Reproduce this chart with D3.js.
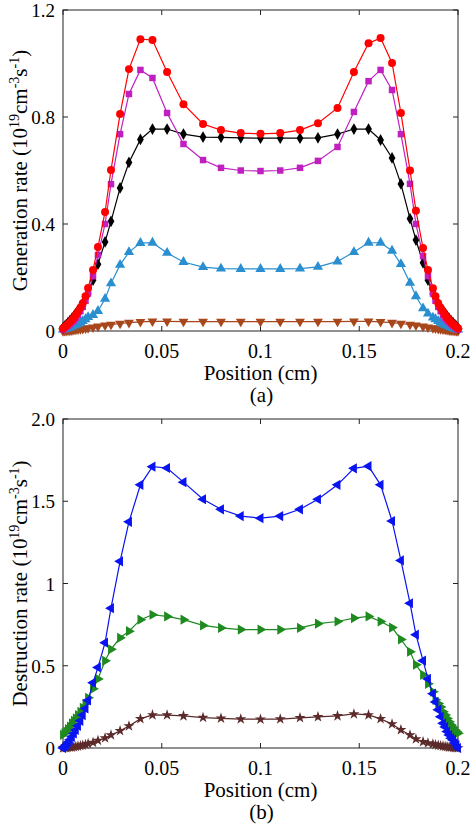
<!DOCTYPE html>
<html>
<head>
<meta charset="utf-8">
<script src="https://cdn.jsdelivr.net/npm/d3@7"></script>
<style>
  body { margin: 0; background: #fff; }
</style>
</head>
<body>
<svg id="fig" width="474" height="829" font-family="'Liberation Serif', 'Times New Roman', Times, 'DejaVu Serif', serif"></svg>
<script>
// shared position grid (cm), same for both panels
var positions = [0, 0.0008, 0.0016, 0.0025, 0.0035, 0.0045, 0.0055, 0.0065, 0.0076, 0.0088, 0.0100,
  0.0114, 0.0127, 0.0152, 0.0177, 0.0213, 0.0243, 0.0289, 0.0334, 0.0392, 0.0453, 0.0527, 0.0610,
  0.0709, 0.0800, 0.0900, 0.1000, 0.1100, 0.1200, 0.1291, 0.1390, 0.1473, 0.1547, 0.1608, 0.1666,
  0.1711, 0.1757, 0.1787, 0.1823, 0.1848, 0.1873, 0.1886, 0.1900, 0.1912, 0.1924, 0.1935, 0.1945,
  0.1955, 0.1965, 0.1975, 0.1984, 0.1992, 0.2000];

// (a) generation rate, 1e19 cm^-3 s^-1
var genRed = [0.010, 0.015, 0.020, 0.026, 0.033, 0.041, 0.050, 0.060, 0.072, 0.087, 0.104,
  0.130, 0.161, 0.228, 0.314, 0.445, 0.602, 0.811, 0.979, 1.091, 1.088, 0.968, 0.848,
  0.774, 0.751, 0.740, 0.737, 0.740, 0.751, 0.777, 0.834, 0.968, 1.076, 1.095, 1.002,
  0.815, 0.600, 0.450, 0.310, 0.228, 0.160, 0.130, 0.104, 0.087, 0.072, 0.060, 0.050,
  0.041, 0.033, 0.026, 0.020, 0.015, 0.010];
var genMagenta = [0.005, 0.010, 0.015, 0.020, 0.026, 0.033, 0.040, 0.049, 0.060, 0.074, 0.090,
  0.113, 0.140, 0.205, 0.284, 0.400, 0.549, 0.736, 0.886, 0.976, 0.946, 0.815, 0.699,
  0.639, 0.610, 0.600, 0.598, 0.600, 0.610, 0.636, 0.688, 0.819, 0.934, 0.976, 0.901,
  0.736, 0.550, 0.400, 0.280, 0.205, 0.140, 0.113, 0.090, 0.074, 0.060, 0.049, 0.040,
  0.033, 0.026, 0.020, 0.015, 0.010, 0.005];
var genBlack = [0.012, 0.018, 0.024, 0.031, 0.039, 0.047, 0.056, 0.066, 0.077, 0.090, 0.104,
  0.122, 0.140, 0.190, 0.250, 0.333, 0.410, 0.535, 0.630, 0.716, 0.755, 0.755, 0.736,
  0.725, 0.724, 0.722, 0.721, 0.721, 0.721, 0.722, 0.736, 0.755, 0.755, 0.714, 0.647,
  0.550, 0.420, 0.340, 0.255, 0.190, 0.140, 0.122, 0.104, 0.090, 0.077, 0.066, 0.056,
  0.047, 0.039, 0.031, 0.024, 0.018, 0.012];
var genBlue = [0.005, 0.007, 0.009, 0.011, 0.014, 0.017, 0.020, 0.023, 0.027, 0.032, 0.037,
  0.044, 0.052, 0.060, 0.075, 0.120, 0.178, 0.247, 0.295, 0.329, 0.330, 0.292, 0.258,
  0.239, 0.233, 0.232, 0.232, 0.232, 0.233, 0.240, 0.260, 0.295, 0.330, 0.330, 0.300,
  0.250, 0.180, 0.130, 0.085, 0.065, 0.050, 0.044, 0.037, 0.032, 0.027, 0.023, 0.020,
  0.017, 0.014, 0.011, 0.009, 0.007, 0.005];
var genBrown = [0.000, 0.0005, 0.001, 0.0015, 0.002, 0.003, 0.004, 0.005, 0.006, 0.007, 0.008,
  0.010, 0.011, 0.014, 0.017, 0.021, 0.024, 0.028, 0.031, 0.034, 0.036, 0.036, 0.035,
  0.035, 0.035, 0.035, 0.035, 0.035, 0.035, 0.035, 0.035, 0.036, 0.036, 0.034, 0.031,
  0.028, 0.024, 0.021, 0.017, 0.014, 0.011, 0.010, 0.008, 0.007, 0.006, 0.005, 0.004,
  0.003, 0.002, 0.0015, 0.001, 0.0005, 0.000];

// (b) destruction rate, 1e19 cm^-3 s^-1
var desBlue = [0.000, 0.010, 0.020, 0.035, 0.050, 0.068, 0.088, 0.110, 0.135, 0.165, 0.200,
  0.240, 0.290, 0.397, 0.490, 0.640, 0.850, 1.135, 1.375, 1.600, 1.710, 1.702, 1.616,
  1.512, 1.451, 1.410, 1.397, 1.410, 1.451, 1.512, 1.600, 1.700, 1.713, 1.600, 1.380,
  1.140, 0.880, 0.689, 0.531, 0.420, 0.330, 0.280, 0.232, 0.190, 0.150, 0.128, 0.100,
  0.079, 0.060, 0.049, 0.030, 0.018, 0.000];
var desGreen = [0.080, 0.090, 0.100, 0.115, 0.130, 0.150, 0.165, 0.180, 0.200, 0.220, 0.244,
  0.270, 0.305, 0.360, 0.420, 0.530, 0.600, 0.670, 0.710, 0.780, 0.810, 0.800, 0.780,
  0.745, 0.730, 0.720, 0.720, 0.720, 0.730, 0.756, 0.769, 0.790, 0.800, 0.769, 0.732,
  0.660, 0.585, 0.506, 0.445, 0.390, 0.342, 0.293, 0.270, 0.250, 0.220, 0.201, 0.180,
  0.159, 0.140, 0.125, 0.110, 0.100, 0.090];
var desBrown = [0.000, 0.001, 0.002, 0.003, 0.004, 0.005, 0.007, 0.009, 0.011, 0.014, 0.017,
  0.021, 0.025, 0.033, 0.045, 0.061, 0.079, 0.104, 0.134, 0.177, 0.201, 0.200, 0.195,
  0.185, 0.180, 0.176, 0.175, 0.176, 0.183, 0.189, 0.195, 0.207, 0.201, 0.177, 0.146,
  0.110, 0.079, 0.055, 0.037, 0.030, 0.024, 0.020, 0.017, 0.014, 0.011, 0.009, 0.007,
  0.005, 0.004, 0.003, 0.002, 0.001, 0.000];

var xTicks = [0, 0.05, 0.1, 0.15, 0.2],
    xTickLabels = ['0', '0.05', '0.1', '0.15', '0.2'];
var genTicks = [0, 0.4, 0.8, 1.2],
    genTickLabels = ['0', '0.4', '0.8', '1.2'];
var desTicks = [0, 0.5, 1, 1.5, 2],
    desTickLabels = ['0', '0.5', '1', '1.5', '2.0'];

var svg = d3.select('#fig');

function drawPanel(opt) {
    var x = d3.scaleLinear().domain([0, 0.2]).range([opt.left, opt.right]);
    var y = d3.scaleLinear().domain(opt.yDomain).range([opt.bottom, opt.top]);
    var g = svg.append('g');

    // frame
    g.append('rect')
        .attr('x', opt.left).attr('y', opt.top)
        .attr('width', opt.right - opt.left).attr('height', opt.bottom - opt.top)
        .style('fill', 'none').style('stroke', '#222').style('stroke-width', 1);

    // inward ticks, mirrored on all sides
    var tl = 5;
    xTicks.forEach(function(t, i) {
        g.append('line').attr('x1', x(t)).attr('x2', x(t)).attr('y1', opt.bottom).attr('y2', opt.bottom - tl)
            .style('stroke', '#222');
        g.append('line').attr('x1', x(t)).attr('x2', x(t)).attr('y1', opt.top).attr('y2', opt.top + tl)
            .style('stroke', '#222');
        g.append('text').attr('x', x(t)).attr('y', opt.bottom + 27)
            .style('font-size', '20px').style('text-anchor', 'middle')
            .text(xTickLabels[i]);
    });
    opt.yTicks.forEach(function(t, i) {
        g.append('line').attr('x1', opt.left).attr('x2', opt.left + tl).attr('y1', y(t)).attr('y2', y(t))
            .style('stroke', '#222');
        g.append('line').attr('x1', opt.right).attr('x2', opt.right - tl).attr('y1', y(t)).attr('y2', y(t))
            .style('stroke', '#222');
        g.append('text').attr('x', opt.left - 8).attr('y', y(t) + 7)
            .style('font-size', '19px').style('text-anchor', 'end')
            .text(opt.yTickLabels[i]);
    });

    // axis titles
    g.append('text')
        .attr('x', (opt.left + opt.right) / 2).attr('y', opt.bottom + 49)
        .style('font-size', '21px').style('text-anchor', 'middle')
        .text('Position (cm)');
    g.append('text')
        .attr('x', (opt.left + opt.right) / 2 + 1).attr('y', opt.bottom + 71)
        .style('font-size', '21px').style('text-anchor', 'middle')
        .text(opt.caption);

    var yl = g.append('text')
        .attr('transform', 'translate(27,' + ((opt.top + opt.bottom) / 2) + ') rotate(-90)')
        .style('font-size', '21px').style('text-anchor', 'middle');
    yl.append('tspan').text(opt.yName + ' (10');
    yl.append('tspan').attr('dy', -8).style('font-size', '14px').text('19');
    yl.append('tspan').attr('dy', 8).text('cm');
    yl.append('tspan').attr('dy', -8).style('font-size', '14px').text('-3');
    yl.append('tspan').attr('dy', 8).text('s');
    yl.append('tspan').attr('dy', -8).style('font-size', '14px').text('-1');
    yl.append('tspan').attr('dy', 8).text(')');

    var line = d3.line()
        .x(function(d) { return x(d[0]); })
        .y(function(d) { return y(d[1]); });

    opt.series.forEach(function(s) {
        var pts = positions.map(function(p, i) { return [p, s.values[i]]; });
        g.append('path').datum(pts)
            .attr('d', line)
            .style('fill', 'none').style('stroke', s.color).style('stroke-width', 1.2);
        var sym = d3.symbol().type(s.shape).size(s.size);
        g.selectAll(null).data(pts).enter().append('path')
            .attr('d', sym)
            .attr('transform', function(d) {
                return 'translate(' + x(d[0]) + ',' + y(d[1]) + ') rotate(' + (s.rot || 0) + ')';
            })
            .style('fill', s.color).style('stroke', 'none');
    });
}

drawPanel({
    left: 63, right: 458, top: 10, bottom: 331,
    yDomain: [0, 1.2], yTicks: genTicks, yTickLabels: genTickLabels,
    yName: 'Generation rate', caption: '(a)',
    series: [
        {values: genBrown, color: '#a8461c', shape: d3.symbolTriangle, size: 42, rot: 180},
        {values: genBlue, color: '#2a8fd0', shape: d3.symbolTriangle, size: 45},
        {values: genBlack, color: '#000000', shape: d3.symbolDiamond, size: 40},
        {values: genMagenta, color: '#c020c0', shape: d3.symbolSquare, size: 42},
        {values: genRed, color: '#ff0000', shape: d3.symbolCircle, size: 50}
    ]
});

drawPanel({
    left: 63, right: 458, top: 419, bottom: 748,
    yDomain: [0, 2], yTicks: desTicks, yTickLabels: desTickLabels,
    yName: 'Destruction rate', caption: '(b)',
    series: [
        {values: desBrown, color: '#5c2a2a', shape: d3.symbolStar, size: 38},
        {values: desGreen, color: '#1f8a1f', shape: d3.symbolTriangle, size: 45, rot: 90},
        {values: desBlue, color: '#0a14f0', shape: d3.symbolTriangle, size: 45, rot: -90}
    ]
});
</script>
</body>
</html>
